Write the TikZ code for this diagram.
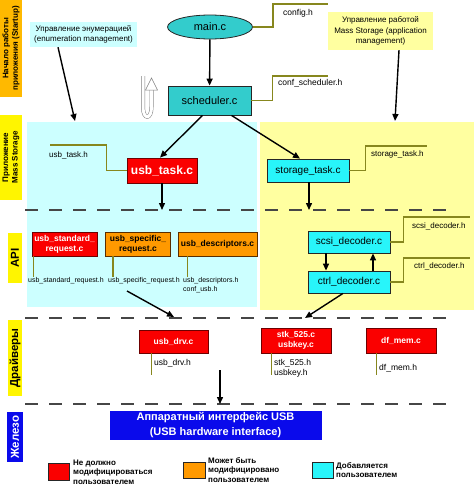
\documentclass[tikz,border=0pt]{standalone}
\usepackage{fontspec}
\setmainfont{Liberation Sans}
\usetikzlibrary{positioning,arrows.meta,shapes.geometric}

\definecolor{tealfill}{RGB}{51,204,204}
\definecolor{userfill}{RGB}{40,245,250}
\definecolor{redfill}{RGB}{250,0,0}
\definecolor{darkred}{RGB}{110,0,0}
\definecolor{orangefill}{RGB}{255,153,0}
\definecolor{darkorange}{RGB}{90,45,0}
\definecolor{bgcyan}{RGB}{204,255,255}
\definecolor{bgyellow}{RGB}{255,255,160}
\definecolor{labelyellow}{RGB}{255,245,0}
\definecolor{labelorange}{RGB}{255,185,0}
\definecolor{hwblue}{RGB}{10,10,235}
\definecolor{olivegreen}{RGB}{135,135,30}
\definecolor{sepgray}{RGB}{70,70,70}

\begin{document}
\begin{tikzpicture}[
  x=1pt, y=-1pt,
  module/.style={rectangle, draw=black!85, line width=0.8pt, align=center, inner sep=1pt},
  core/.style={module, draw=black!85, fill=tealfill, font=\fontsize{11}{13}\selectfont},
  user/.style={module, fill=userfill, font=\fontsize{10}{12}\selectfont},
  locked/.style={module, draw=darkred, fill=redfill, text=white, font=\bfseries\fontsize{8.5}{10}\selectfont},
  changeable/.style={module, draw=darkorange, fill=orangefill, font=\bfseries\fontsize{8.5}{10}\selectfont},
  layer/.style={rotate=90, font=\bfseries\fontsize{8}{9.5}\selectfont, align=center, inner sep=0pt},
  hfile/.style={font=\fontsize{8}{9.5}\selectfont, anchor=west, inner sep=0pt, align=left},
  hline/.style={draw=olivegreen, line width=1.3pt},
  direct/.style={-{Triangle[length=7pt,width=6pt]}, line width=1.4pt},
  divider/.style={draw=sepgray, line width=1.6pt, dash pattern=on 13pt off 11pt},
  note/.style={font=\fontsize{8}{10.5}\selectfont, align=center, inner sep=2pt},
  legend/.style={font=\bfseries\fontsize{8}{9.7}\selectfont, anchor=west, align=left, inner sep=0pt}
]
\useasboundingbox (0,0) rectangle (474,487);

% Backgrounds
\fill[bgcyan] (27,122) rectangle (257,307);
\fill[bgyellow] (260,122) rectangle (474,310);

% Layer labels
\node[layer, fill=labelorange, minimum width=97pt, minimum height=22pt] (lStartup) at (11,48.5) {Начало работы\\приложения (Startup)};
\node[layer, fill=labelyellow, minimum width=85pt, minimum height=22pt] (lApp) at (11,157.5) {Приложение\\Mass Storage};
\node[layer, fill=labelyellow, minimum width=50pt, minimum height=14pt, font=\bfseries\fontsize{11.5}{13}\selectfont] (lApi) at (15,258) {API};
\node[layer, fill=labelyellow, minimum width=76pt, minimum height=14pt, font=\bfseries\fontsize{11.5}{13}\selectfont] (lDrv) at (15,358) {Драйверы};
\node[layer, fill=hwblue, text=white, minimum width=50pt, minimum height=16pt, font=\bfseries\fontsize{11.5}{13}\selectfont] (lHw) at (15,437) {Железо};

% Layer dividers
\coordinate (d1a) at (25,210); \coordinate (d1b) at (456,210);
\coordinate (d2a) at (25,318); \coordinate (d2b) at (456,318);
\coordinate (d3a) at (25,404); \coordinate (d3b) at (456,404);
\draw[divider] (d1a) -- (d1b);
\draw[divider] (d2a) -- (d2b);
\draw[divider] (d3a) -- (d3b);

% Notes
\node[note, fill=bgcyan, minimum width=107pt, minimum height=25pt] (enumNote) at (83.5,34.5) {Управление энумерацией\\(enumeration management)};
\node[note, fill=bgyellow, minimum width=105pt, minimum height=38pt] (appNote) at (380.5,31) {Управление работой\\Mass Storage (application\\management)};

% Startup
\node[core, ellipse, minimum width=85pt, minimum height=24pt] (main) at (210,27) {main.c};
\node[core, minimum width=83pt, minimum height=29pt] (sched) at (209.5,100.5) {scheduler.c};
\node[hfile, font=\fontsize{8.5}{10}\selectfont] (cfgH) at (283,13) {config.h};
\node[hfile, font=\fontsize{8.5}{10}\selectfont] (confSchedH) at (278,83) {conf\_scheduler.h};
\coordinate (cfgEnd) at (328,4);
\coordinate (confSchedEnd) at (328,76);

% Mass Storage application
\node[locked, minimum width=70pt, minimum height=25pt, font=\bfseries\fontsize{12}{14}\selectfont] (usbTask) at (162,170.5) {usb\_task.c};
\node[user, minimum width=82pt, minimum height=23pt] (storTask) at (308,170.5) {storage\_task.c};
\node[hfile] (usbTaskH) at (49,155) {usb\_task.h};
\node[hfile] (storTaskH) at (371,154) {storage\_task.h};
\coordinate (usbTaskEnd) at (50,145);
\coordinate (storTaskEnd) at (427,146);

% API
\node[locked, minimum width=65pt, minimum height=24pt] (stdReq) at (64.5,244) {usb\_standard\_\\request.c};
\node[changeable, minimum width=65pt, minimum height=24pt] (specReq) at (138,244) {usb\_specific\_\\request.c};
\node[changeable, minimum width=79pt, minimum height=24pt] (descr) at (217.5,244) {usb\_descriptors.c};
\node[user, minimum width=82pt, minimum height=22pt] (scsi) at (349,242) {scsi\_decoder.c};
\node[user, minimum width=82pt, minimum height=22pt] (ctrl) at (349,282) {ctrl\_decoder.c};
\node[hfile, font=\fontsize{7}{9}\selectfont] (stdReqH) at (28,281) {usb\_standard\_request.h};
\node[hfile, font=\fontsize{7}{9}\selectfont] (specReqH) at (108,281) {usb\_specific\_request.h};
\node[hfile, font=\fontsize{7}{9}\selectfont] (descrH) at (183,285.5) {usb\_descriptors.h\\conf\_usb.h};
\node[hfile] (scsiH) at (412,226) {scsi\_decoder.h};
\node[hfile] (ctrlH) at (414,266) {ctrl\_decoder.h};
\coordinate (scsiEnd) at (470,217);
\coordinate (ctrlEnd) at (470,258);

% Drivers
\node[locked, minimum width=69pt, minimum height=23pt] (usbDrv) at (173.5,341.5) {usb\_drv.c};
\node[locked, minimum width=70pt, minimum height=25pt] (stk) at (296,340.5) {stk\_525.c\\usbkey.c};
\node[locked, minimum width=70pt, minimum height=25pt] (dfMem) at (401,340.5) {df\_mem.c};
\node[hfile, font=\fontsize{8.5}{10}\selectfont] (usbDrvH) at (154,363) {usb\_drv.h};
\node[hfile, font=\fontsize{8.5}{10}\selectfont] (stkH) at (274,368) {stk\_525.h\\usbkey.h};
\node[hfile, font=\fontsize{8.5}{10}\selectfont] (dfMemH) at (379,368) {df\_mem.h};

% Hardware
\node[module, draw=hwblue, fill=hwblue, text=white, minimum width=211pt, minimum height=27pt, font=\bfseries\fontsize{11}{15}\selectfont] (hw) at (215.5,425.5) {Аппаратный интерфейс USB\\(USB hardware interface)};

% Legend
\node[module, fill=redfill, minimum width=21pt, minimum height=17pt] (keyRed) at (58.5,471.5) {};
\node[legend] (keyRedText) at (73,472) {Не должно\\модифицироваться\\пользователем};
\node[module, fill=orangefill, minimum width=22pt, minimum height=16pt] (keyOrange) at (194,470) {};
\node[legend] (keyOrangeText) at (208,470) {Может быть\\модифицировано\\пользователем};
\node[module, fill=userfill, minimum width=21pt, minimum height=16pt] (keyCyan) at (322.5,470) {};
\node[legend] (keyCyanText) at (336,470) {Добавляется\\пользователем};

% Header files
\draw[hline] (main.east) -- ++(20,0) |- (cfgEnd);
\draw[hline] (sched.east) -- ++(21,0) |- (confSchedEnd);
\draw[hline] (usbTask.west) -- ++(-20,0) |- (usbTaskEnd);
\draw[hline] (storTask.east) -- ++(16,0) |- (storTaskEnd);
\draw[hline] (scsi.east) -- ++(13,0) |- (scsiEnd);
\draw[hline] (ctrl.east) -- ++(13,0) |- (ctrlEnd);
\draw[hline] ([xshift=2pt]stdReq.south west) -- ++(0,21);
\draw[hline] ([xshift=8pt]specReq.south west) -- ++(0,21);
\draw[hline] ([xshift=10pt]descr.south west) -- ++(0,21);
\draw[hline] ([xshift=13pt]usbDrv.south west) -- ++(0,22);
\draw[hline] ([xshift=11pt]stk.south west) -- ++(0,22);
\draw[hline] ([xshift=11pt]dfMem.south west) -- ++(0,22);

% Calls
\coordinate (usbIn) at (75,121);
\coordinate (storIn) at (395,121);
\coordinate (usbOut) at (162,210);
\coordinate (storOut) at (309,210);
\coordinate (apiFrom) at (127,291);
\coordinate (apiTo) at (174,317);
\coordinate (ctrlOut) at (305,318);
\coordinate (drvFrom) at (220,370);
\coordinate (drvTo) at (220,404);
\draw[direct] ([xshift=-25.5pt]enumNote.south) -- (usbIn);
\draw[direct] ([xshift=18.5pt]appNote.south) -- (storIn);
\draw[direct] (main) -- (sched);
\draw[direct] ([xshift=-7pt]sched.south) -- ([xshift=-2pt]usbTask.north);
\draw[direct] ([xshift=22pt]sched.south) -- ([xshift=-8pt]storTask.north);
\draw[direct] (usbTask.south) -- (usbOut);
\draw[direct] (storTask.south -| storOut) -- (storOut);
\draw[direct] ([xshift=-23pt]scsi.south) -- ([xshift=-23pt]ctrl.north);
\draw[direct] ([xshift=24pt]ctrl.north) -- ([xshift=24pt]scsi.south);
\draw[direct] ([xshift=-6pt]ctrl.south) -- (ctrlOut);
\draw[direct] (apiFrom) -- (apiTo);
\draw[direct] (drvFrom) -- (drvTo);

% Scheduler loop
\draw[gray, line width=0.5pt, double=white, double distance=3pt] (143,76) -- (143,107) .. controls (143,120) and (151.5,120) .. (151.5,107) -- (151.5,90);
\draw[gray, line width=0.5pt, fill=white] (145.5,90) -- (151.5,78) -- (157.5,90) -- cycle;

\end{tikzpicture}
\end{document}
